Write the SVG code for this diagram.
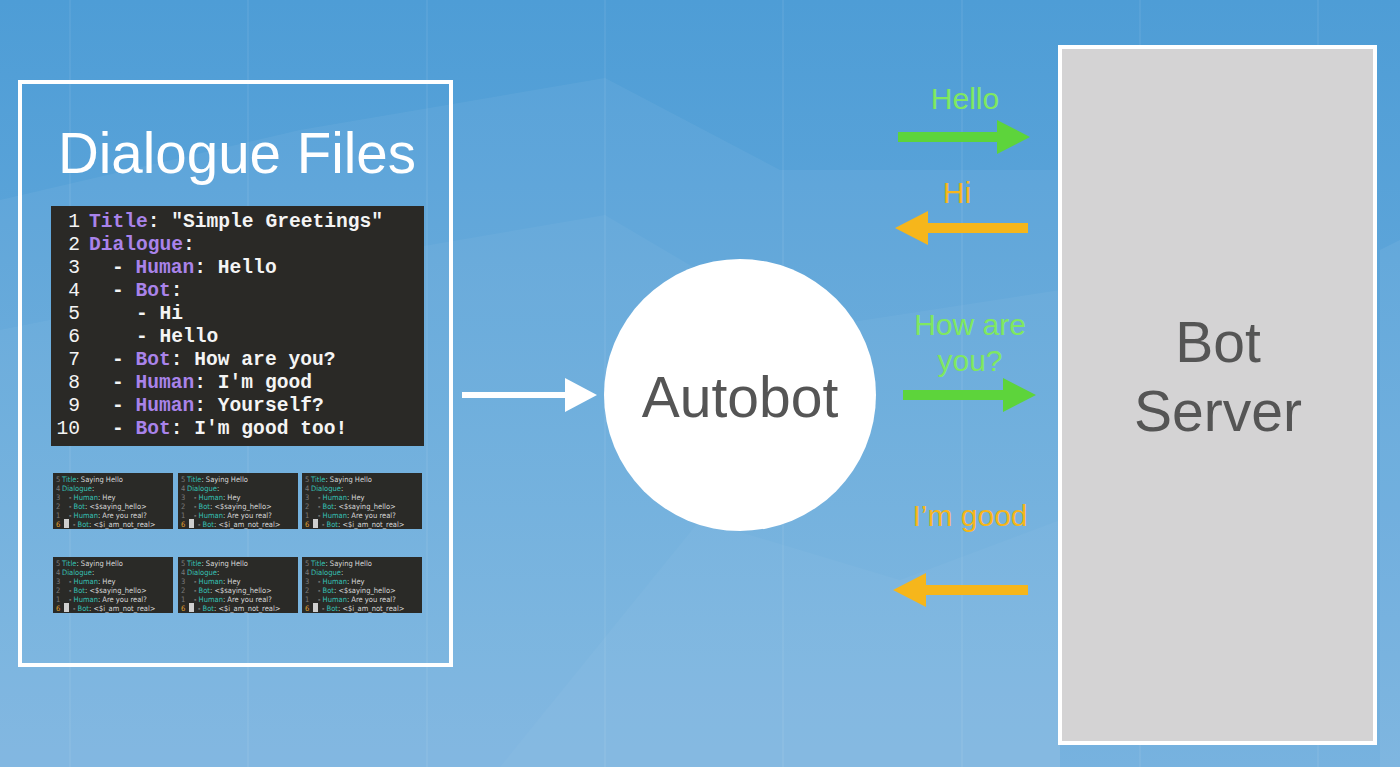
<svg xmlns="http://www.w3.org/2000/svg" width="1400" height="767" viewBox="0 0 1400 767">
<defs>
<linearGradient id="bg" x1="0" y1="0" x2="0" y2="1">
<stop offset="0" stop-color="#4e9dd6"/>
<stop offset="1" stop-color="#77b2df"/>
</linearGradient>
<style>
.code{font-family:"Liberation Mono",monospace;font-weight:bold;font-size:19.6px;fill:#f4f4f4}
.kw{fill:#a983ea}
.ln{text-anchor:end;font-weight:normal}
.sm{font-family:"DejaVu Sans Condensed","DejaVu Sans",sans-serif;font-size:7.5px;fill:#d8d8d8}
.tk{fill:#35c0b4}
.sn{fill:#7a7a7a}
.cur{fill:#e0a030}
.lbl{font-family:"Liberation Sans",Arial,sans-serif;font-size:30px;text-anchor:middle}
.big{font-family:"Liberation Sans",Arial,sans-serif;font-size:57px;text-anchor:middle;fill:#555}
.grid{stroke:#ffffff;stroke-opacity:0.12;stroke-width:1}
.thumb{fill:#2a2a27}
</style>
<g id="thumbtpl">
<rect class="thumb" x="0" y="0" width="120" height="56"/>
<text class="sm sn" x="3" y="9">5</text><text class="sm" x="9" y="9"><tspan class="tk">Title</tspan>: Saying Hello</text>
<text class="sm sn" x="3" y="18">4</text><text class="sm" x="9" y="18"><tspan class="tk">Dialogue</tspan>:</text>
<text class="sm sn" x="3" y="27">3</text><text class="sm" x="16" y="27">- <tspan class="tk">Human</tspan>: Hey</text>
<text class="sm sn" x="3" y="36">2</text><text class="sm" x="16" y="36">- <tspan class="tk">Bot</tspan>: &lt;$saying_hello&gt;</text>
<text class="sm sn" x="3" y="45">1</text><text class="sm" x="16" y="45">- <tspan class="tk">Human</tspan>: Are you real?</text>
<text class="sm cur" x="3" y="54">6</text>
<rect x="11" y="46" width="5" height="9" fill="#cfcfcf"/>
<text class="sm" x="20" y="54">- <tspan class="tk">Bot</tspan>: &lt;$i_am_not_real&gt;</text>
</g>
</defs>

<g id="background">
<rect x="0" y="0" width="1400" height="767" fill="url(#bg)"/>
<polygon points="0,200 300,130 605,78 780,170 1060,170 1060,767 0,767" fill="#ffffff" fill-opacity="0.05"/>
<polygon points="0,330 400,250 605,215 800,330 1060,290 1060,767 0,767" fill="#ffffff" fill-opacity="0.04"/>
<polygon points="500,767 700,520 900,580 1060,520 1060,767" fill="#ffffff" fill-opacity="0.03"/>
<polygon points="1380,250 1400,240 1400,767 1380,767" fill="#ffffff" fill-opacity="0.06"/>
<line class="grid" x1="70" y1="0" x2="70" y2="767"/>
<line class="grid" x1="248" y1="0" x2="248" y2="767"/>
<line class="grid" x1="427" y1="0" x2="427" y2="767"/>
<line class="grid" x1="605" y1="0" x2="605" y2="767"/>
<line class="grid" x1="783" y1="0" x2="783" y2="767"/>
<line class="grid" x1="962" y1="0" x2="962" y2="767"/>
<line class="grid" x1="1140" y1="0" x2="1140" y2="767"/>
<line class="grid" x1="1318" y1="0" x2="1318" y2="767"/>
</g>

<g id="dialogue-files">
<rect x="20" y="82" width="431" height="583" fill="none" stroke="#ffffff" stroke-width="4"/>
<text x="237" y="173" font-family="Liberation Sans,Arial,sans-serif" font-size="56.5" fill="#ffffff" text-anchor="middle">Dialogue Files</text>
<rect x="51" y="206" width="373" height="240" fill="#2a2926"/>
<g class="code">
<text class="ln" x="80" y="227">1</text><text x="89" y="227"><tspan class="kw">Title</tspan>: "Simple Greetings"</text>
<text class="ln" x="80" y="250">2</text><text x="89" y="250"><tspan class="kw">Dialogue</tspan>:</text>
<text class="ln" x="80" y="273">3</text><text x="112" y="273">- <tspan class="kw">Human</tspan>: Hello</text>
<text class="ln" x="80" y="296">4</text><text x="112" y="296">- <tspan class="kw">Bot</tspan>:</text>
<text class="ln" x="80" y="319">5</text><text x="136" y="319">- Hi</text>
<text class="ln" x="80" y="342">6</text><text x="136" y="342">- Hello</text>
<text class="ln" x="80" y="365">7</text><text x="112" y="365">- <tspan class="kw">Bot</tspan>: How are you?</text>
<text class="ln" x="80" y="388">8</text><text x="112" y="388">- <tspan class="kw">Human</tspan>: I'm good</text>
<text class="ln" x="80" y="411">9</text><text x="112" y="411">- <tspan class="kw">Human</tspan>: Yourself?</text>
<text class="ln" x="80" y="434">10</text><text x="112" y="434">- <tspan class="kw">Bot</tspan>: I'm good too!</text>
</g>
<use href="#thumbtpl" x="53" y="473"/>
<use href="#thumbtpl" x="178" y="473"/>
<use href="#thumbtpl" x="302" y="473"/>
<use href="#thumbtpl" x="53" y="557"/>
<use href="#thumbtpl" x="178" y="557"/>
<use href="#thumbtpl" x="302" y="557"/>
</g>

<g id="autobot">
<circle cx="740" cy="395" r="136" fill="#ffffff"/>
<text class="big" x="740" y="417">Autobot</text>
</g>

<g id="bot-server">
<rect x="1060" y="47" width="315" height="696" fill="#d4d3d4" stroke="#ffffff" stroke-width="4"/>
<text class="big" x="1218" y="362">Bot</text>
<text class="big" x="1218" y="431">Server</text>
</g>

<g id="connectors">
<path d="M462,392 H565 V378 L597,395 L565,412 V398 H462 Z" fill="#ffffff"/>
<path d="M898,132 H997 V120 L1030,137 L997,154 V142 H898 Z" fill="#5dd43b"/>
<path d="M1028,223 H928 V211 L895,228 L928,245 V233 H1028 Z" fill="#f6b61b"/>
<path d="M903,390 H1003 V378 L1036,395 L1003,412 V400 H903 Z" fill="#5dd43b"/>
<path d="M1028,585 H926 V573 L893,590 L926,607 V595 H1028 Z" fill="#f6b61b"/>
</g>

<g id="labels">
<text class="lbl" x="965" y="109" fill="#80e860">Hello</text>
<text class="lbl" x="957" y="203" fill="#f6b61b">Hi</text>
<text class="lbl" x="970" y="335" fill="#80e860">How are</text>
<text class="lbl" x="970" y="371" fill="#80e860">you?</text>
<text class="lbl" x="970" y="526" fill="#f6b61b">I’m good</text>
</g>
</svg>
